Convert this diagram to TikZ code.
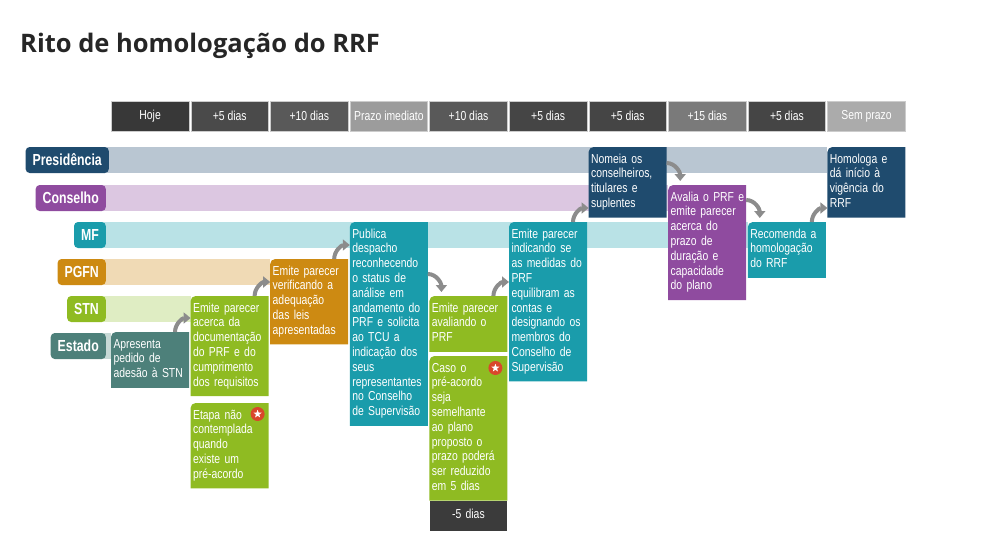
\documentclass[tikz,border=0pt]{standalone}
\usepackage{fontspec}
\setmainfont{Liberation Sans}[FakeStretch=0.8]
\newfontfamily\lanefamily{Liberation Sans}[FakeStretch=0.77]
\newfontfamily\titlefamily{Open Sans}
\usetikzlibrary{arrows.meta,calc,shapes.geometric}
\definecolor{presdark}{HTML}{1F4B6E}
\definecolor{presband}{HTML}{B9C6D2}
\definecolor{consdark}{HTML}{8F4B9F}
\definecolor{consband}{HTML}{DCC7E1}
\definecolor{mfdark}{HTML}{1A9CAB}
\definecolor{mfband}{HTML}{B9E2E6}
\definecolor{pgfndark}{HTML}{CD8A12}
\definecolor{pgfnband}{HTML}{F0DAB5}
\definecolor{stndark}{HTML}{8FBB22}
\definecolor{stnband}{HTML}{DFEDC3}
\definecolor{estadodark}{HTML}{4D807A}
\definecolor{estadoband}{HTML}{C7D9D6}
\definecolor{badgered}{HTML}{D9472B}
\definecolor{flowgrey}{HTML}{8C8C8C}
\definecolor{minusgrey}{HTML}{3B3B3B}
\newcommand{\cardfont}{\fontsize{13}{14.8}\selectfont}
\newcommand{\lanefont}{\lanefamily\bfseries\fontsize{16}{17}\selectfont}
\pgfdeclarelayer{lanes}
\pgfdeclarelayer{cards}
\pgfsetlayers{lanes,cards,main}
\tikzset{
    every node/.style={align=center,},
    head/.style={fill=#1,draw=black!20,line width=0.6pt,text=white,minimum width=77.6pt,minimum height=30pt,inner sep=0pt,anchor=north west,font=\cardfont,},
    lane/.style={fill=#1,text=white,rounded corners=4pt,minimum height=26pt,inner xsep=7pt,inner ysep=0pt,anchor=east,font=\lanefont,},
    card/.style={text=white,anchor=north west,align=left,text width=73pt,inner xsep=2.3pt,inner ysep=5.5pt,font=\cardfont,execute at begin node={\hyphenpenalty=10000\strut},execute at end node=\strut,},
    flow/.style={draw=flowgrey,line width=4pt,-{Triangle[length=7pt,width=11pt]},},
    badge/.style={circle,fill=badgered,minimum size=14pt,inner sep=0pt,},
    starglyph/.style={star,star points=5,star point ratio=2.4,fill=white,minimum size=8.5pt,inner sep=0pt,},
}
\begin{document}
\begin{tikzpicture}[x=1pt,y=1pt]
                \useasboundingbox (0,0) rectangle (984,-550);

                \node[anchor=base west,inner sep=0pt,text=black!85,font=\titlefamily\bfseries\fontsize{25.5}{29}\selectfont] (title) at (20,-52) {Rito de homologação do RRF};

                % prazos
                \foreach \i/\txt/\tone in {0/Hoje/78,1/+5 dias/71,2/+10 dias/65,3/Prazo imediato/39,4/+10 dias/65,5/+5 dias/73,6/+5 dias/73,7/+15 dias/52,8/+5 dias/73,9/Sem prazo/33}
                    \node[head=black!\tone] (head\i) at ({111+\i*79.6},-101) {\txt};

                % instancias
                \node[lane=presdark] (presid) at (109,-160) {Presidência};
                \node[lane=consdark] (conselho) at (106,-198) {Conselho};
                \node[lane=mfdark] (mf) at (106,-235) {MF};
                \node[lane=pgfndark] (pgfn) at (106,-272) {PGFN};
                \node[lane=stndark] (stn) at (106,-309) {STN};
                \node[lane=estadodark] (estado) at (106,-346) {Estado};

                % etapas
                \node[card] (apresenta) at (111,-332) {Apresenta\\pedido de\\adesão à STN};
                \node[card] (docstn) at (190.6,-296) {Emite parecer\\acerca da\\documentação\\do PRF e do\\cumprimento\\dos requisitos};
                \node[card] (etapa) at (190.6,-403) {Etapa não\\contemplada\\quando\\existe um\\pré-acordo};
                \node[card] (leispgfn) at (270.2,-259) {Emite parecer\\verificando a\\adequação\\das leis\\apresentadas};
                \node[card] (publica) at (349.8,-222) {Publica\\despacho\\reconhecendo\\o status de\\análise em\\andamento do\\PRF e solicita\\ao TCU a\\indicação dos\\seus\\representantes\\no Conselho\\de Supervisão};
                \node[card] (avaliando) at (429.4,-296) {Emite parecer\\avaliando o\\PRF};
                \node[card] (caso) at (429.4,-356) {Caso o\\pré-acordo\\seja\\semelhante\\ao plano\\proposto o\\prazo poderá\\ser reduzido\\em 5 dias};
                \node[card,align=center,fill=minusgrey,minimum height=30pt] (reducao) at (caso.south west) {-5 dias};
                \node[card] (indicando) at (509,-222) {Emite parecer\\indicando se\\as medidas do\\PRF\\equilibram as\\contas e\\designando os\\membros do\\Conselho de\\Supervisão};
                \node[card] (nomeia) at (588.6,-147) {Nomeia os\\conselheiros,\\titulares e\\suplentes};
                \node[card] (avalia) at (668.2,-185) {Avalia~o~PRF~e\\emite parecer\\acerca do\\prazo de\\duração e\\capacidade\\do plano};
                \node[card] (recomenda) at (747.8,-222) {Recomenda a\\homologação\\do RRF};
                \node[card] (homologa) at (827.4,-147) {Homologa e\\dá início à\\vigência do\\RRF};

                % observacoes
                \node[badge] (etapabadge) at ($(etapa.north east)+(-11pt,-11pt)$) {};
                \node[starglyph] (etapastar) at (etapabadge) {};
                \node[badge] (casobadge) at ($(caso.north east)+(-12pt,-12pt)$) {};
                \node[starglyph] (casostar) at (casobadge) {};

                \begin{pgfonlayer}{lanes}
                    \fill[presband] (presid.north) rectangle (homologa.west |- presid.south);
                    \fill[consband] (conselho.north) rectangle (avalia.west |- conselho.south);
                    \fill[mfband] (mf.north) rectangle (recomenda.west |- mf.south);
                    \fill[pgfnband] (pgfn.north) rectangle (leispgfn.west |- pgfn.south);
                    \fill[stnband] (stn.north) rectangle (docstn.west |- stn.south);
                    \fill[estadoband] (estado.north) rectangle (apresenta.west |- estado.south);
                \end{pgfonlayer}

                \begin{pgfonlayer}{cards}
                    \foreach \card/\cl in {apresenta/estadodark,docstn/stndark,etapa/stndark,leispgfn/pgfndark,publica/mfdark,avaliando/stndark,caso/stndark,indicando/mfdark,nomeia/presdark,avalia/consdark,recomenda/mfdark,homologa/presdark}
                        \fill[\cl] (\card.south west) -- ([yshift=-5pt]\card.north west) arc[start angle=180,end angle=90,radius=5pt] -- (\card.north east) -- (\card.south east) -- cycle;
                \end{pgfonlayer}

                % subidas
                \foreach \a/\b in {apresenta/docstn,docstn/leispgfn,leispgfn/publica,avaliando/indicando,indicando/nomeia,recomenda/homologa}
                    \draw[flow] ([xshift=-14pt]\a.north east) to[out=90,in=180] ($(\b.west |- \a.north)+(0pt,14pt)$);

                % descidas
                \foreach \a/\b in {publica/avaliando,nomeia/avalia,avalia/recomenda}
                    \draw[flow] ($(\a.east |- \b.north)+(0pt,22pt)$) to[out=0,in=90] ([xshift=12pt,yshift=4pt]\b.north west);
            \end{tikzpicture}
\end{document}
